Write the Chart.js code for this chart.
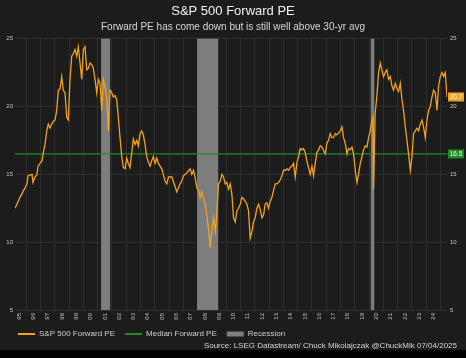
<!DOCTYPE html>
<html>
<head>
<meta charset="utf-8">
<script src="https://cdn.jsdelivr.net/npm/chart.js@4.4.1/dist/chart.umd.min.js"></script>
<style>
  html, body { margin: 0; padding: 0; background: #000; }
  #wrap { position: relative; width: 466px; height: 350px; background: #1c1c1c; }
  #source { position: absolute; right: 9px; top: 341px; font: 8px 'Liberation Sans', Arial, sans-serif; color: #d2d2d2; line-height: 10px; white-space: nowrap; }
</style>
</head>
<body>
<div id="wrap">
  <canvas id="graphPE" width="466" height="350"></canvas>
  <div id="source">Source: LSEG Datastream/ Chuck Mikolajczak @ChuckMik 07/04/2025</div>
</div>
<script>
// decimal years
const dates = [
  1995.22, 1995.57, 1995.92, 1996.06, 1996.13, 1996.41, 1996.48, 1996.62, 1996.76, 1996.83,
  1997.11, 1997.22, 1997.32, 1997.44, 1997.55, 1997.67, 1997.79, 1997.90, 1998.02, 1998.14,
  1998.25, 1998.37, 1998.49, 1998.60, 1998.72, 1998.84, 1998.95, 1999.07, 1999.19, 1999.30,
  1999.42, 1999.54, 1999.65, 1999.77, 1999.89, 2000.00, 2000.12, 2000.24, 2000.35, 2000.47,
  2000.59, 2000.70, 2000.82, 2000.94, 2001.05, 2001.17, 2001.29, 2001.40, 2001.52, 2001.64,
  2001.75, 2001.87, 2001.99, 2002.10, 2002.22, 2002.34, 2002.45, 2002.57, 2002.69, 2002.80,
  2002.92, 2003.04, 2003.15, 2003.27, 2003.39, 2003.50, 2003.62, 2003.74, 2003.85, 2003.97,
  2004.09, 2004.20, 2004.32, 2004.44, 2004.55, 2004.67, 2004.79, 2004.90, 2005.02, 2005.14,
  2005.25, 2005.49, 2005.72, 2005.84, 2005.96, 2006.19, 2006.42, 2006.54, 2006.77, 2006.89,
  2007.01, 2007.24, 2007.47, 2007.59, 2007.71, 2007.82, 2007.94, 2008.06, 2008.18, 2008.29,
  2008.53, 2008.64, 2008.76, 2008.88, 2008.99, 2009.11, 2009.23, 2009.34, 2009.46, 2009.58,
  2009.70, 2009.81, 2009.93, 2010.04, 2010.16, 2010.28, 2010.40, 2010.51, 2010.63, 2010.75,
  2010.86, 2010.98, 2011.10, 2011.21, 2011.33, 2011.45, 2011.56, 2011.68, 2011.80, 2011.91,
  2012.03, 2012.15, 2012.26, 2012.38, 2012.50, 2012.61, 2012.73, 2012.85, 2012.96, 2013.08,
  2013.20, 2013.31, 2013.43, 2013.55, 2013.66, 2013.78, 2013.90, 2014.01, 2014.13, 2014.25,
  2014.36, 2014.48, 2014.59, 2014.71, 2014.83, 2014.94, 2015.06, 2015.18, 2015.29, 2015.41,
  2015.53, 2015.64, 2015.76, 2015.88, 2016.00, 2016.11, 2016.23, 2016.35, 2016.46, 2016.58,
  2016.70, 2016.93, 2017.05, 2017.16, 2017.28, 2017.40, 2017.51, 2017.63, 2017.75, 2017.98,
  2018.10, 2018.21, 2018.33, 2018.45, 2018.56, 2018.68, 2018.80, 2018.91, 2019.03, 2019.15,
  2019.26, 2019.38, 2019.50, 2019.61, 2019.73, 2019.85, 2019.96, 2020.08, 2020.20, 2020.27,
  2020.31, 2020.42, 2020.54, 2020.66, 2020.78, 2020.89, 2021.01, 2021.13, 2021.24, 2021.36,
  2021.48, 2021.60, 2021.71, 2021.83, 2021.95, 2022.06, 2022.18, 2022.30, 2022.41, 2022.53,
  2022.65, 2022.76, 2022.88, 2023.00, 2023.11, 2023.23, 2023.35, 2023.46, 2023.58, 2023.70,
  2023.81, 2023.93, 2024.05, 2024.16, 2024.28, 2024.40, 2024.51, 2024.63, 2024.75, 2024.86,
  2024.98, 2025.10, 2025.21, 2025.33, 2025.45
];
const forwardPE = [
  12.5, 13.3, 14.0, 14.3, 14.9, 15.0, 14.4, 14.8, 15.0, 15.6,
  16.0, 16.7, 17.2, 18.2, 18.7, 18.4, 18.7, 18.9, 19.0, 19.7,
  21.2, 21.3, 22.2, 21.2, 21.0, 19.2, 19.0, 22.0, 23.7, 23.9,
  24.2, 23.7, 24.4, 23.2, 22.0, 24.2, 24.4, 22.7, 22.8, 23.2,
  23.1, 22.8, 22.0, 21.0, 22.0, 21.7, 19.7, 22.0, 21.5, 20.7,
  18.2, 21.2, 21.0, 20.7, 20.8, 20.5, 19.2, 17.7, 16.3, 15.5,
  15.4, 16.2, 15.8, 15.5, 16.6, 17.6, 17.2, 17.5, 17.1, 18.0,
  18.2, 17.9, 17.2, 16.3, 15.9, 15.6, 16.0, 16.3, 15.8, 16.2,
  15.8, 15.4, 14.5, 14.3, 14.8, 14.8, 14.1, 13.7, 14.3, 14.5,
  14.9, 15.1, 15.4, 15.0, 15.3, 14.8, 14.0, 13.8, 13.3, 13.7,
  12.8, 12.0, 11.0, 9.6, 10.8, 11.8, 10.8, 12.0, 14.3, 14.5,
  15.0, 14.8, 14.3, 14.4, 13.9, 14.3, 13.5, 11.8, 11.5, 12.3,
  12.5, 12.8, 13.3, 13.2, 13.0, 12.8, 12.3, 10.3, 10.8, 11.5,
  11.8, 12.5, 12.8, 12.4, 11.8, 12.0, 12.8, 12.9, 12.5, 13.0,
  13.3, 13.8, 14.3, 14.3, 14.4, 14.6, 14.9, 15.3, 15.3, 15.4,
  15.3, 15.5, 15.6, 15.8, 14.8, 15.8, 16.3, 16.9, 16.8, 16.9,
  16.6, 16.0, 15.5, 15.0, 15.6, 14.9, 15.8, 16.6, 16.8, 17.1,
  17.0, 16.5, 17.3, 17.5, 18.0, 17.7, 17.7, 18.0, 17.9, 18.2,
  18.5, 17.7, 17.3, 16.5, 16.9, 16.8, 17.0, 16.5, 15.3, 14.4,
  15.0, 15.8, 16.3, 16.8, 17.1, 17.0, 17.7, 18.2, 19.0, 19.2,
  13.9, 19.5, 20.7, 22.5, 23.2, 22.7, 22.2, 22.5, 22.7, 22.0,
  22.2, 21.5, 21.2, 21.7, 21.3, 21.1, 21.7, 20.5, 19.7, 18.5,
  17.5, 16.5, 15.3, 16.3, 18.0, 18.2, 18.4, 18.2, 18.7, 19.0,
  18.5, 17.7, 19.0, 19.7, 20.0, 20.7, 21.2, 21.0, 19.7, 21.5,
  22.2, 22.5, 22.2, 22.5, 20.7
];
const medianPE = 16.5;
const recessionStart = [2001.24, 2007.96, 2020.12];
const recessionEnd = [2001.87, 2009.44, 2020.36];

// gridlines at year boundaries, labels sit half a year to the left
const tickYears = [1996, 1997, 1998, 1999, 2000, 2001, 2002, 2003, 2004, 2005, 2006, 2007, 2008, 2009, 2010,
  2011, 2012, 2013, 2014, 2015, 2016, 2017, 2018, 2019, 2020, 2021, 2022, 2023, 2024, 2025];
const yearLabels = ['95', '96', '97', '98', '99', '00', '01', '02', '03', '04', '05', '06', '07', '08', '09',
  '10', '11', '12', '13', '14', '15', '16', '17', '18', '19', '20', '21', '22', '23', '24'];
const peTicks = [5, 10, 15, 20, 25];

const peColor = '#f2a21e';
const medianColor = '#1f8c1f';
const recessionColor = '#7d7d7d';
const gridColor = '#2e2e2e';
const textColor = '#cfcfcf';
const font = "'Liberation Sans', Arial, sans-serif";

const recessionBands = {
  id: 'recessionBands',
  beforeDatasetsDraw(chart) {
    const {ctx, chartArea, scales: {x}} = chart;
    ctx.save();
    ctx.fillStyle = recessionColor;
    for (let i = 0; i < recessionStart.length; ++i) {
      const x0 = x.getPixelForValue(recessionStart[i]);
      const x1 = x.getPixelForValue(recessionEnd[i]);
      ctx.fillRect(x0, chartArea.top, x1 - x0, chartArea.bottom - chartArea.top);
    }
    ctx.restore();
  }
};

const valueTags = {
  id: 'valueTags',
  afterDraw(chart) {
    const {ctx, chartArea, scales: {y}} = chart;
    const tag = (value, color) => {
      const py = y.getPixelForValue(value);
      ctx.fillStyle = color;
      ctx.fillRect(chartArea.right + 1, py - 4.5, 16, 9);
      ctx.fillStyle = '#ffffff';
      ctx.font = '6.5px ' + font;
      ctx.textAlign = 'center';
      ctx.textBaseline = 'middle';
      ctx.fillText(value.toFixed(1), chartArea.right + 9, py + 0.5);
    };
    ctx.save();
    tag(forwardPE[forwardPE.length - 1], peColor);
    tag(medianPE, medianColor);
    ctx.restore();
  }
};

// nudge the legend right so it lines up under the plot
const legendShift = {
  id: 'legendShift',
  afterLayout(chart) {
    chart.legend.left += 8;
  }
};

const yTicks = { color: '#c4c4c4', font: { family: font, size: 6 } };

new Chart(document.getElementById('graphPE'), {
  type: 'line',
  data: {
    datasets: [{
      label: 'S&P 500 Forward PE',
      data: dates.map((d, i) => ({ x: d, y: forwardPE[i] })),
      borderColor: peColor,
      borderWidth: 1.3,
      pointRadius: 0,
      tension: 0
    }, {
      label: 'Median Forward PE',
      data: [{ x: dates[0], y: medianPE }, { x: dates[dates.length - 1], y: medianPE }],
      borderColor: medianColor,
      borderWidth: 1.2,
      pointRadius: 0
    }]
  },
  options: {
    responsive: false,
    animation: false,
    devicePixelRatio: 1,
    layout: { padding: { left: 0, right: 0, top: 0, bottom: 2 } },
    scales: {
      x: {
        type: 'linear',
        min: dates[0],
        max: dates[dates.length - 1],
        afterBuildTicks: (scale) => { scale.ticks = tickYears.map(v => ({ value: v })); },
        afterFit: (scale) => { scale.height = 10; },
        ticks: {
          autoSkip: false, minRotation: 90, maxRotation: 90, labelOffset: -7, padding: 3,
          color: '#c4c4c4', font: { family: font, size: 6 },
          callback: (value, index) => yearLabels[index]
        },
        grid: { color: gridColor, drawTicks: false },
        border: { display: false }
      },
      y: {
        position: 'left', min: 5, max: 25,
        afterBuildTicks: (scale) => { scale.ticks = peTicks.map(v => ({ value: v })); },
        afterFit: (scale) => { scale.width = 15; },
        ticks: { ...yTicks, padding: 2 },
        grid: { color: gridColor, drawTicks: false },
        border: { display: false }
      },
      y2: {
        position: 'right', min: 5, max: 25,
        afterBuildTicks: (scale) => { scale.ticks = peTicks.map(v => ({ value: v })); },
        afterFit: (scale) => { scale.width = 19; },
        ticks: { ...yTicks, padding: 3 },
        grid: { display: false, drawTicks: false },
        border: { display: false }
      }
    },
    plugins: {
      title: {
        display: true, text: 'S&P 500 Forward PE', color: '#f2f2f2',
        font: { family: font, size: 13, weight: 'normal' }, padding: { top: 4, bottom: 2 }
      },
      subtitle: {
        display: true, text: 'Forward PE has come down but is still well above 30-yr avg', color: '#d6d6d6',
        font: { family: font, size: 10 }, padding: { top: 0, bottom: 5 }
      },
      legend: {
        position: 'bottom',
        align: 'start',
        labels: {
          color: textColor,
          font: { family: font, size: 8 },
          padding: 10,
          usePointStyle: true,
          pointStyleWidth: 17,
          boxHeight: 5,
          generateLabels: () => [
            { text: 'S&P 500 Forward PE', fontColor: textColor, pointStyle: 'line', strokeStyle: peColor, fillStyle: peColor, lineWidth: 2, hidden: false, datasetIndex: 0 },
            { text: 'Median Forward PE', fontColor: textColor, pointStyle: 'line', strokeStyle: medianColor, fillStyle: medianColor, lineWidth: 2, hidden: false, datasetIndex: 1 },
            { text: 'Recession', fontColor: textColor, pointStyle: 'rect', strokeStyle: recessionColor, fillStyle: recessionColor, lineWidth: 0, hidden: false }
          ]
        }
      },
      tooltip: { enabled: false }
    }
  },
  plugins: [recessionBands, valueTags, legendShift]
});
</script>
</body>
</html>
